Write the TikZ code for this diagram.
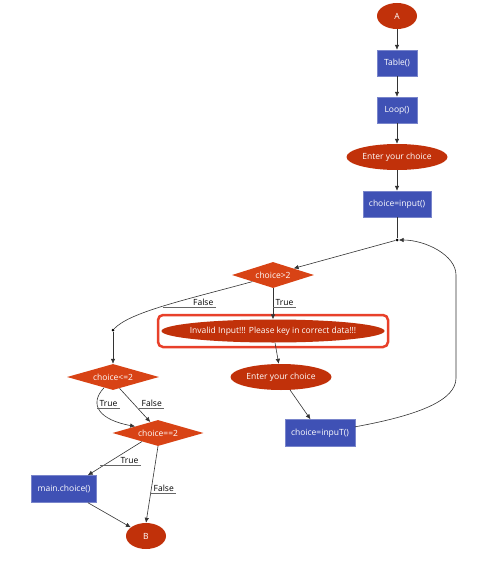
\documentclass[tikz,border=0pt]{standalone}
\usepackage{fontspec}
\setmainfont{Open Sans}
\usetikzlibrary{arrows.meta}
\usetikzlibrary{shapes.geometric}
\definecolor{ovalred}{HTML}{C1310A}
\definecolor{boxblue}{HTML}{3F51B5}
\definecolor{dmdorange}{HTML}{D84315}
\definecolor{hilite}{HTML}{E8402A}
\definecolor{wire}{HTML}{333333}
\tikzstyle{oval}=[ellipse,fill=ovalred,text=white,inner sep=0pt,minimum height=26pt]
\tikzstyle{proc}=[rectangle,fill=boxblue,draw=boxblue!70!white,text=white,inner sep=0pt,minimum height=26pt]
\tikzstyle{cond}=[diamond,fill=dmdorange,text=white,inner sep=0pt,aspect=3.5,minimum height=26pt]
\tikzstyle{jnt}=[circle,fill=black,inner sep=0pt,minimum size=3pt]
\tikzstyle{wireline}=[draw=wire,line width=0.6pt]
\tikzstyle{flow}=[wireline,-{Latex[length=5pt,width=4.5pt]}]
\tikzstyle{lbl}=[text=black,inner xsep=2.5pt,inner ysep=1.5pt]
\tikzstyle{uline}=[draw=black!60,line width=0.5pt]

\begin{document}
\begin{tikzpicture}[x=1pt,y=-1pt,font=\fontsize{8.5}{10}\selectfont]
\useasboundingbox (0,0) rectangle (480,578);
% main column
\node[oval,minimum width=40pt] (A) at (397,16) {A};
\node[proc,minimum width=40pt] (table) at (397,63) {Table()};
\node[proc,minimum width=40pt] (loop) at (397,110) {Loop()};
\node[oval,minimum width=101pt] (enter) at (397,157) {Enter your choice};
\node[proc,minimum width=68pt] (input) at (397,204) {choice=input()};
\node[jnt] (jn) at (397,240) {};

% first check and the retry branch
\node[cond,minimum width=82pt] (gt) at (273,275) {choice>2};
\node[draw=hilite,line width=2.5pt,rounded corners=5pt,fill=white,minimum width=230pt,minimum height=32pt] (hl) at (273,331) {};
\node[oval,minimum width=223pt,minimum height=23pt,inner xsep=-7pt] (invalid) at (273,331) {Invalid Input!!! Please key in correct data!!!};
\node[oval,minimum width=101pt] (enter2) at (281,377) {Enter your choice};
\node[proc,minimum width=70pt,minimum height=27pt] (inputT) at (320,433) {choice=inpuT()};

% second and third checks
\node[jnt] (bend) at (113,330) {};
\node[cond,minimum width=92pt] (le) at (113,377) {choice<=2};
\node[cond,minimum width=91pt] (eq) at (158,433) {choice==2};
\node[proc,minimum width=65pt,minimum height=27pt] (main) at (64,489) {main.choice()};
\node[oval,minimum width=40pt] (B) at (146,536) {B};

\draw[flow] (A) -- (table);
\draw[flow] (table) -- (loop);
\draw[flow] (loop) -- (enter);
\draw[flow] (enter) -- (input);
\draw[wireline] (input) -- (jn);
\draw[flow] (jn) -- (gt.north east);

\draw[flow] (gt.south) -- (invalid.north);
\node[lbl,anchor=south west] (t1) at (273,307) {True};
\draw[uline] (t1.south west) -- (t1.south east);

\draw[wireline] (gt.south west) .. controls (185,300) and (130,312) .. (bend);
\node[lbl,anchor=south east] (f1) at (216,307) {False};
\draw[uline] (f1.south east) -- ++(-53,0);
\draw[flow] (bend) -- (le);

\draw[flow] (invalid) -- (enter2);
\draw[flow] (enter2) -- (inputT);
\draw[flow] (inputT.10) .. controls (420,415) and (456,400) .. (456,378) -- (456,275) .. controls (456,255) and (425,240) .. (jn);

\draw[flow] (le.230) .. controls (88,405) and (100,420) .. (eq.north west);
\node[lbl,anchor=south west] (t2) at (97,408) {True};
\draw[uline] (t2.south west) -- (t2.south east);
\draw[flow] (le.300) -- (eq.125);
\node[lbl,anchor=south west] (f2) at (139,408) {False};
\draw[uline] (f2.south west) -- (f2.south east);

\draw[flow] (eq.208) -- (main.30);
\node[lbl,anchor=south east] (t3) at (141,465) {True};
\draw[uline] (t3.south east) -- ++(-41,0);
\draw[flow] (eq.south) -- (B.north);
\node[lbl,anchor=south west] (f3) at (151,493) {False};
\draw[uline] (f3.south west) -- (f3.south east);
\draw[flow] (main) -- (B);
\end{tikzpicture}
\end{document}
